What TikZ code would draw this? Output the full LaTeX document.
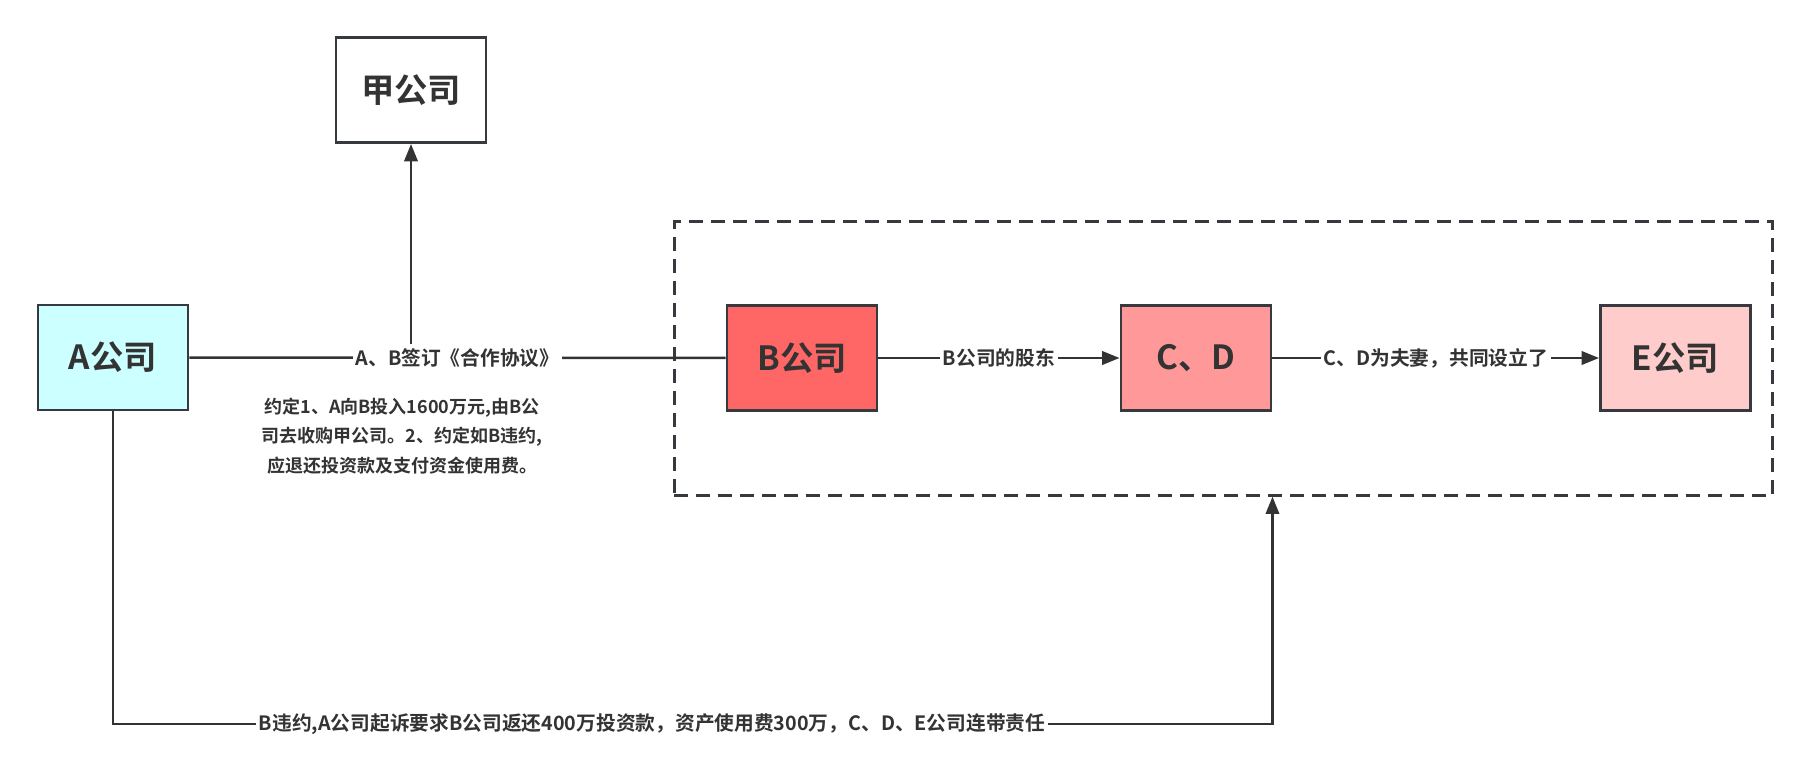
\documentclass[tikz,border=0pt]{standalone}
\usepackage{fontspec}
\setmainfont{Noto Sans CJK SC}[BoldFont={Noto Sans CJK SC Bold}]
\usetikzlibrary{arrows.meta}
\definecolor{ln}{HTML}{333333}
\definecolor{bd}{HTML}{36393D}
\definecolor{fa}{HTML}{CCFFFF}
\definecolor{fb}{HTML}{FF6666}
\definecolor{fc}{HTML}{FF9999}
\definecolor{fe}{HTML}{FFCCCC}
\begin{document}
\begin{tikzpicture}[x=0.75pt,y=-0.75pt,
  box/.style={draw=bd, line width=2.2pt, minimum width=112.5pt, minimum height=78.75pt, inner sep=0pt, text=ln, font=\bfseries\fontsize{25}{29}\selectfont},
  conn/.style={draw=ln, line width=1.9pt},
  arr/.style={conn, -{Triangle[length=13pt,width=10pt]}},
  lbl/.style={fill=white, text=ln, inner sep=2pt, font=\bfseries\fontsize{14.8}{17}\selectfont},
  para/.style={text=ln, align=center, inner sep=0pt, font=\bfseries\fontsize{13.5}{22}\selectfont},
  grpbox/.style={draw=bd, line width=2.2pt, dash pattern=on 10.5pt off 6pt, minimum width=824pt, minimum height=205pt, inner sep=0pt}
]
\fill[white] (0,0) rectangle (1810,774);
\useasboundingbox (0,0) rectangle (1810,774);

\node[grpbox] (grp) at (1223.5,358.5) {};
\node[box, fill=fa] (A) at (113,357.5) {A公司};
\node[box, fill=white] (jia) at (411,90) {甲公司};
\node[box, fill=fb] (B) at (802,358) {B公司};
\node[box, fill=fc] (cd) at (1196,358) {C、D};
\node[box, fill=fe] (E) at (1675.5,358) {E公司};

\draw[conn] (A) -- node[lbl] (ab) {A、B签订《合作协议》} (B);
\draw[arr] (ab.north -| jia.south) -- (jia.south);

\node[para] (txt) at (402,436) {约定1、A向B投入1600万元,由B公\\司去收购甲公司。2、约定如B违约,\\应退还投资款及支付资金使用费。};

\draw[arr] (B) -- node[lbl] {B公司的股东} (cd);
\draw[arr] (cd) -- node[lbl] {C、D为夫妻，共同设立了} (E);

\coordinate (bl) at (113,724);
\coordinate (br) at (cd.east |- bl);
\draw[arr] (A.south) -- (bl) -- node[lbl, pos=0.465] {B违约,A公司起诉要求B公司返还400万投资款，资产使用费300万，C、D、E公司连带责任} (br) -- (br |- grp.south);
\end{tikzpicture}
\end{document}
